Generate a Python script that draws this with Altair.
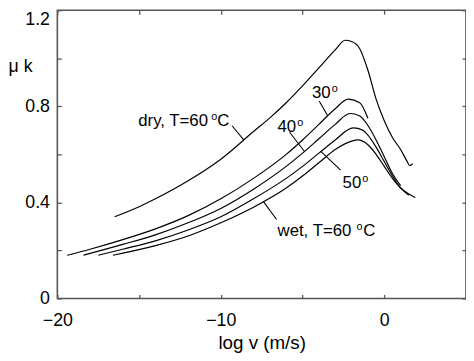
import altair as alt
import pandas as pd

# ---- curve data (log v, mu_k) ----
dry_x = [-16.5, -15.0, -14.0, -12.0, -10.0, -8.0, -7.0, -6.0, -5.0, -4.0, -3.0, -2.4, -2.0, -1.5, -1.0, -0.5, 0.0, 0.5, 1.0, 1.38, 1.56, 1.74]
dry_y = [0.34, 0.382, 0.415, 0.49, 0.58, 0.695, 0.752, 0.815, 0.885, 0.96, 1.035, 1.075, 1.07, 1.04, 0.95, 0.83, 0.74, 0.67, 0.62, 0.573, 0.553, 0.561]

w30_x = [-19.4, -18.0, -16.0, -14.0, -12.0, -10.0, -8.0, -6.0, -5.0, -4.0, -3.0, -2.2, -1.5, -1.0]
w30_y = [0.18, 0.205, 0.245, 0.29, 0.345, 0.415, 0.50, 0.60, 0.66, 0.725, 0.79, 0.83, 0.815, 0.75]

w40_x = [-18.4, -16.0, -14.0, -12.0, -10.0, -8.0, -6.0, -5.0, -4.0, -3.0, -2.1, -1.5, -1.0, -0.5, 0.0, 0.5, 1.0]
w40_y = [0.18, 0.225, 0.265, 0.315, 0.375, 0.455, 0.55, 0.605, 0.665, 0.725, 0.77, 0.76, 0.72, 0.66, 0.59, 0.52, 0.47]

w50_x = [-17.5, -16.0, -14.0, -12.0, -10.0, -8.0, -6.0, -5.0, -4.0, -3.0, -1.9, -1.3, -1.0, -0.5, 0.0, 0.5, 1.0, 1.5]
w50_y = [0.18, 0.205, 0.24, 0.285, 0.34, 0.415, 0.50, 0.55, 0.605, 0.66, 0.71, 0.70, 0.68, 0.63, 0.57, 0.51, 0.46, 0.43]

w60_x = [-16.6, -14.0, -12.0, -10.0, -8.0, -6.0, -5.0, -4.0, -3.0, -2.0, -1.6, -1.0, -0.5, 0.0, 0.5, 1.0, 1.5, 1.9]
w60_y = [0.18, 0.22, 0.26, 0.315, 0.38, 0.46, 0.51, 0.565, 0.62, 0.655, 0.66, 0.64, 0.60, 0.55, 0.50, 0.46, 0.435, 0.42]

# ---- annotation texts ----
label_text = ["dry, T=60", "o", "C", "30", "o", "40", "o", "50", "o", "wet, T=60", "o", "C"]
label_x = [-15.05, -10.58, -10.22, -4.42, -3.21, -6.53, -5.33, -2.55, -1.34, -6.53, -1.70, -1.28]
label_y = [0.719, 0.744, 0.719, 0.834, 0.859, 0.695, 0.719, 0.460, 0.485, 0.260, 0.285, 0.260]
label_size = [17, 11, 17, 17, 11, 17, 11, 17, 11, 17, 11, 17]

# leader lines (start -> end on curve)
lead_x1 = [-9.31, -3.98, -5.79, -2.67, -6.59]
lead_y1 = [0.719, 0.822, 0.692, 0.534, 0.329]
lead_x2 = [-8.60, -3.47, -4.88, -3.88, -7.40]
lead_y2 = [0.66, 0.762, 0.612, 0.612, 0.404]

x_ticks = [-20, -15, -10, -5, 0, 5]
y_ticks = [0, 0.2, 0.4, 0.6, 0.8, 1.0, 1.2]

rows = []
for name, xs, ys in [("dry", dry_x, dry_y), ("30", w30_x, w30_y), ("40", w40_x, w40_y),
                     ("50", w50_x, w50_y), ("60", w60_x, w60_y)]:
    for i, (a, b) in enumerate(zip(xs, ys)):
        rows.append({"series": name, "x": a, "y": b, "order": i})
df = pd.DataFrame(rows)

df_lab = pd.DataFrame({"text": label_text, "x": label_x, "y": label_y, "size": label_size})
df_lead = pd.DataFrame({"x": lead_x1, "y": lead_y1, "x2": lead_x2, "y2": lead_y2})

FONT = "Liberation Sans"
AX = "#555555"
xscale = alt.Scale(domain=[-20, 5], nice=False, zero=False)
yscale = alt.Scale(domain=[0, 1.2], nice=False, zero=False)

x_bottom = alt.Axis(orient="bottom", values=x_ticks, offset=-4, tickSize=4, domain=False,
                    tickColor=AX, tickWidth=1.3, grid=False, labelFlush=False,
                    labelExpr="datum.value % 10 == 0 ? replace(format(datum.value, 'd'), '-', '\u2013') : ''",
                    labelPadding=13, labelFontSize=18, labelFont=FONT, labelColor="black",
                    title="log v (m/s)", titleFont=FONT, titleFontSize=19, titleFontWeight="normal",
                    titleColor="black", titlePadding=5)
y_left = alt.Axis(orient="left", values=y_ticks, offset=-4, tickSize=4, domain=False,
                  tickColor=AX, tickWidth=1.3, grid=False,
                  labelExpr="round(datum.value * 10) % 4 == 0 ? (datum.value == 0 ? '0' : format(datum.value, '.1f')) : ''",
                  labelBaseline=alt.condition("datum.value >= 1.19", alt.value("top"), alt.value("middle")),
                  labelPadding=8, labelFontSize=18, labelFont=FONT, labelColor="black",
                  title="\u03bc k", titleAngle=0, titleAlign="left", titleBaseline="alphabetic",
                  titleX=-54, titleY=62, titleFont=FONT, titleFontSize=18, titleFontWeight="normal",
                  titleColor="black")
x_top = alt.Axis(orient="top", values=x_ticks, offset=-4, tickSize=4, domain=False, labels=False,
                 tickColor=AX, tickWidth=1.3, grid=False, title=None)
y_right = alt.Axis(orient="right", values=y_ticks, offset=-4, tickSize=4, domain=False, labels=False,
                   tickColor=AX, tickWidth=1.3, grid=False, title=None)

lines = alt.Chart(df).mark_line(color="black", strokeWidth=1.2, interpolate="monotone").encode(
    x=alt.X("x:Q", scale=xscale, axis=x_bottom),
    y=alt.Y("y:Q", scale=yscale, axis=y_left),
    detail="series:N",
    order="order:Q",
)

frame_axes = alt.Chart(df).mark_point(opacity=0).encode(
    x=alt.X("x:Q", scale=xscale, axis=x_top),
    y=alt.Y("y:Q", scale=yscale, axis=y_right),
)

leaders = alt.Chart(df_lead).mark_rule(color="black", strokeWidth=1.1).encode(
    x=alt.X("x:Q", axis=None), y=alt.Y("y:Q", axis=None), x2="x2:Q", y2="y2:Q"
)

labels = alt.Chart(df_lab).mark_text(align="left", baseline="alphabetic", font=FONT, color="black").encode(
    x=alt.X("x:Q", axis=None), y=alt.Y("y:Q", axis=None), text="text:N",
    size=alt.Size("size:Q", scale=None, legend=None)
)

chart = alt.layer(lines, frame_axes, leaders, labels).resolve_axis(
    x="independent", y="independent"
).properties(
    width=414, height=292, autosize="none",
    padding={"left": 50, "top": 0, "right": 0, "bottom": 56},
).configure_view(stroke=AX, strokeWidth=1.6)

chart.save("out.html", embed_options={"renderer": "svg", "actions": False})
